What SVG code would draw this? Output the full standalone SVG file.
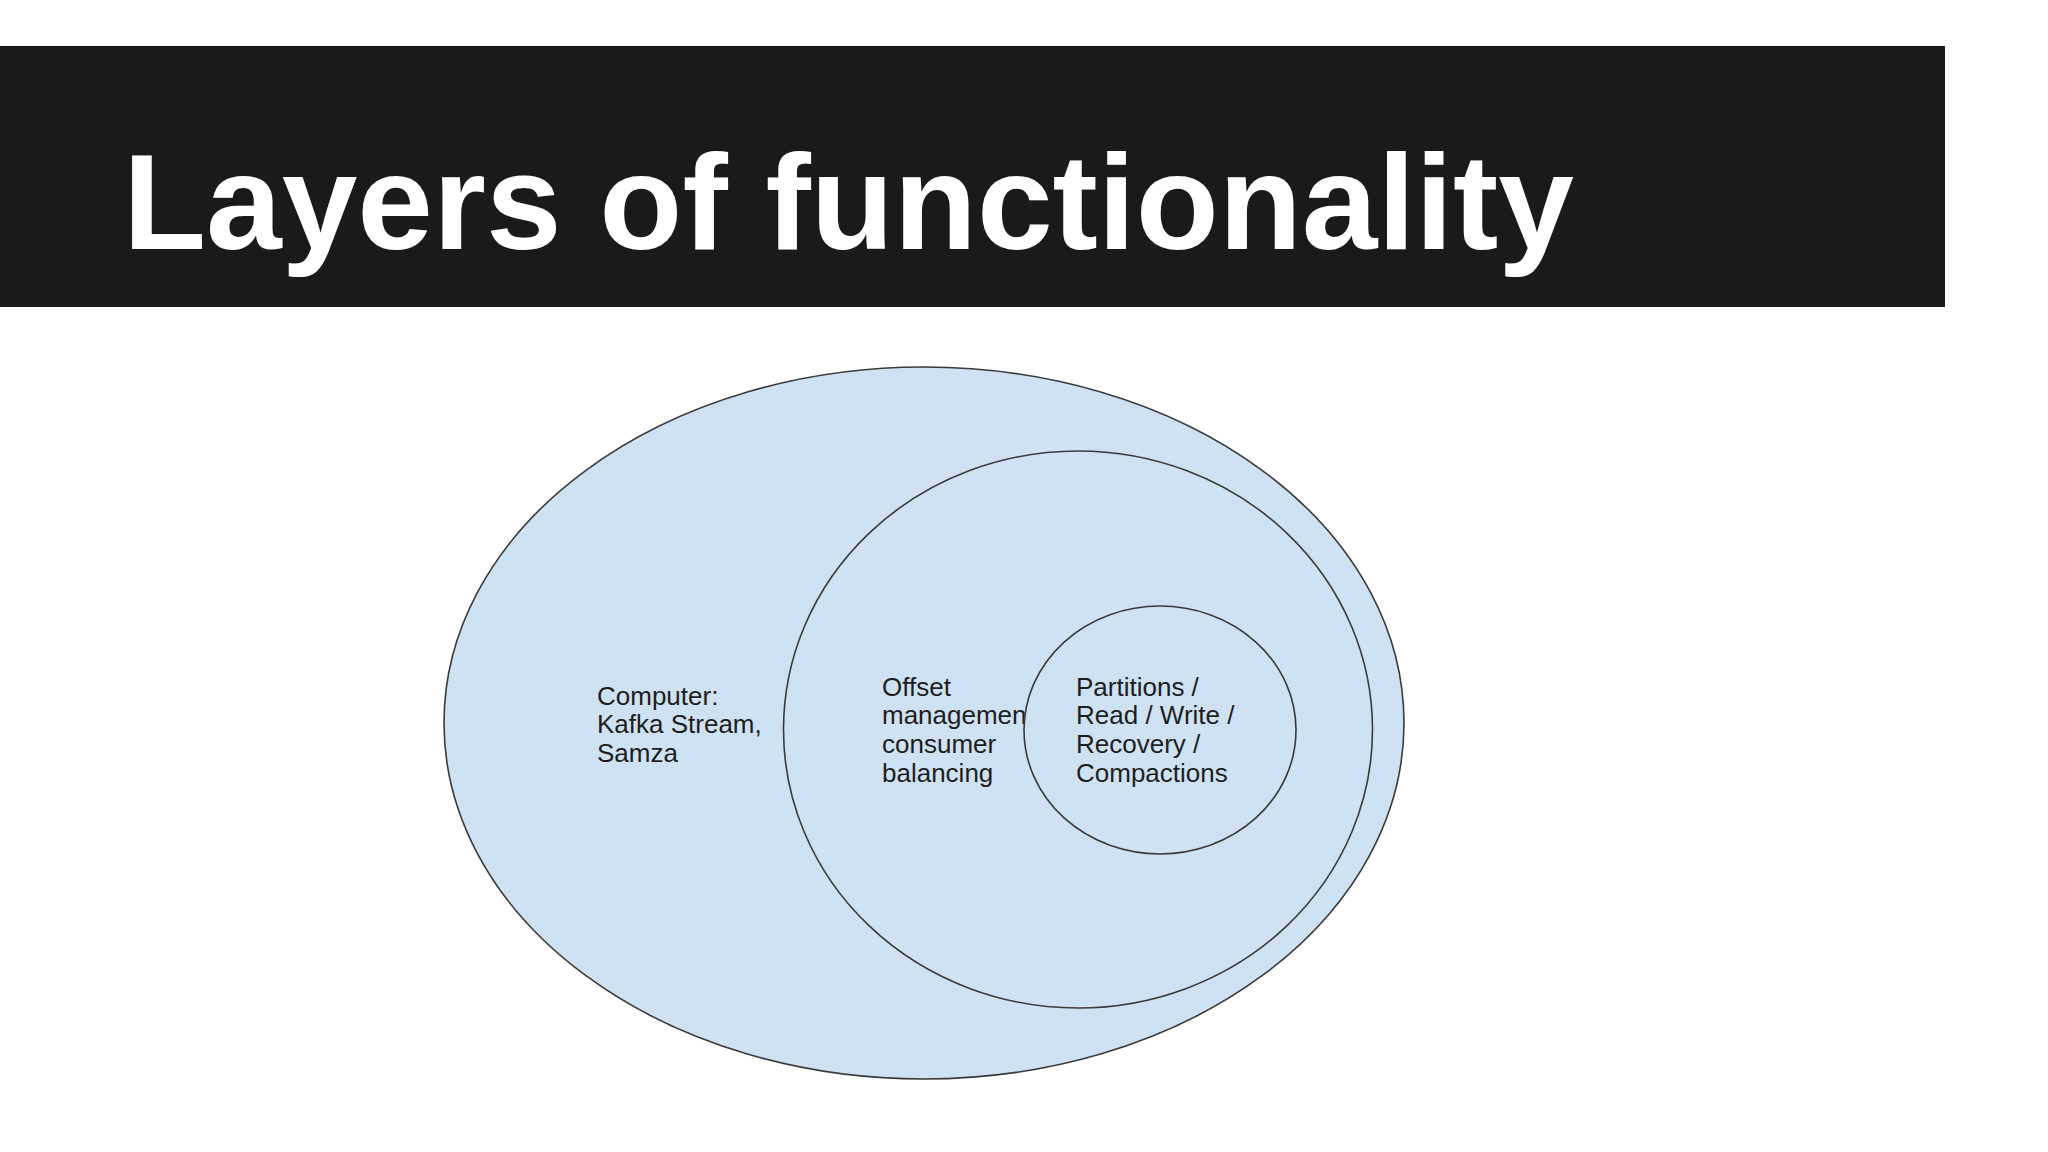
<svg xmlns="http://www.w3.org/2000/svg" width="2048" height="1152" viewBox="0 0 2048 1152">
  <style>
    .layer { fill: #cfe2f3; stroke: #3a3a3a; stroke-width: 1.6; }
    .lbl { font-family: "Liberation Sans", Arial, sans-serif; font-size: 26px; fill: #1e1e1e; }
    .title { font-family: "Liberation Sans", Arial, sans-serif; font-size: 136px; font-weight: bold; fill: #ffffff; }
  </style>
  <rect x="0" y="0" width="2048" height="1152" fill="#ffffff"/>
  <g id="title-bar">
    <rect x="0" y="46" width="1945" height="261" fill="#1a1a1a"/>
    <text class="title" x="123" y="249">Layers of functionality</text>
  </g>
  <g id="outer-layer">
    <ellipse class="layer" cx="924" cy="723" rx="480" ry="356"/>
    <text class="lbl" x="597" y="705">Computer:</text>
    <text class="lbl" x="597" y="733">Kafka Stream,</text>
    <text class="lbl" x="597" y="762">Samza</text>
  </g>
  <g id="middle-layer">
    <ellipse class="layer" cx="1078" cy="729.5" rx="294.5" ry="278.5"/>
    <text class="lbl" x="882" y="696">Offset</text>
    <text class="lbl" x="882" y="724">managemen</text>
    <text class="lbl" x="882" y="753">consumer</text>
    <text class="lbl" x="882" y="782">balancing</text>
  </g>
  <g id="inner-layer">
    <ellipse class="layer" cx="1160" cy="730" rx="136" ry="124"/>
    <text class="lbl" x="1076" y="696">Partitions /</text>
    <text class="lbl" x="1076" y="724">Read / Write /</text>
    <text class="lbl" x="1076" y="753">Recovery /</text>
    <text class="lbl" x="1076" y="782">Compactions</text>
  </g>
  <g id="connectors"></g>
</svg>
